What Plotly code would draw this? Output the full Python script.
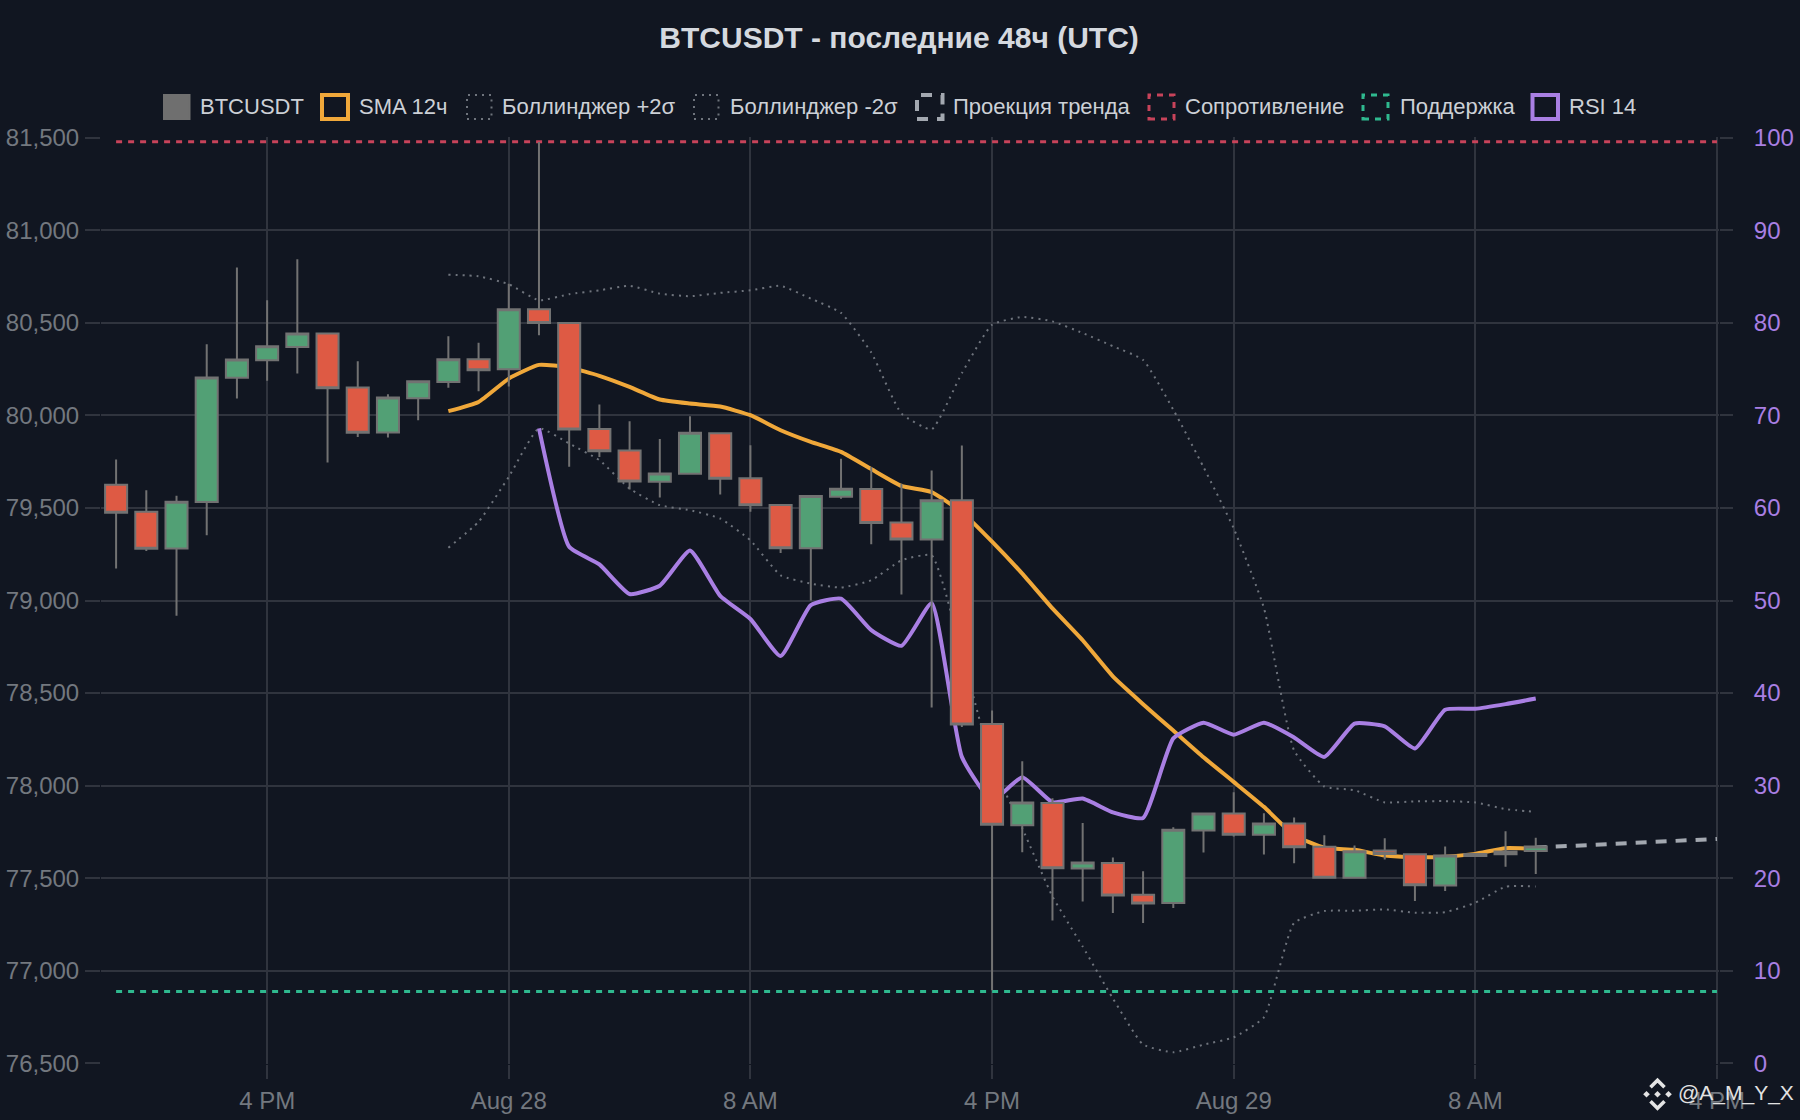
import pandas as pd
import plotly.graph_objects as go

TITLE = "BTCUSDT - последние 48ч (UTC)"
START = "2025-08-27 11:00"

opens = [79625,79479,79281,79532,80203,80298,80370,80442,80151,79908,80093,80180,80304,80250,80574,80500,79926,79811,79641,79685,
         79904,79661,79516,79282,79561,79603,79421,79329,79541,78333,77786,77906,77552,77582,77410,77365,77757,77849,77734,77795,
         77669,77502,77649,77629,77460,77620,77629,77647]
highs = [79762,79596,79566,80385,80799,80622,80844,80445,80293,80115,80190,80428,80392,80712,81477,80500,80059,79969,79872,79996,
         79906,79839,79520,79570,79766,79721,79631,79703,79838,78405,78131,77932,77798,77611,77537,77775,77849,77964,77851,77827,
         77731,77676,77715,77630,77671,77632,77753,77718]
lows = [79173,79267,78918,79353,80091,80187,80226,79746,79884,79881,79974,80149,80131,80156,80433,79722,79776,79600,79557,79685,
        79573,79479,79257,79000,79550,79304,79032,78422,78317,76894,77640,77271,77374,77311,77257,77339,77638,77725,77627,77580,
        77500,77500,77600,77376,77431,77618,77562,77522]
closes = [79474,79280,79533,80205,80302,80374,80442,80147,79906,80097,80185,80304,80244,80574,80500,79924,79807,79643,79686,79906,
          79658,79515,79282,79565,79604,79419,79329,79541,78330,77788,77908,77554,77584,77406,77363,77761,77849,77734,77795,77667,
          77502,77645,77631,77462,77622,77631,77644,77671]

sma12 = [80023,80073,80199,80273,80259,80214,80154,80086,80064,80048,80001,79920,79857,79803,79710,79619,79586,79477,79318,79145,
         78957,78785,78590,78440,78297,78153,78020,77885,77731,77664,77653,77622,77613,77616,77631,77662,77658]
boll_upper = [80760,80752,80709,80622,80655,80676,80700,80658,80644,80662,80676,80700,80631,80554,80340,80010,79925,80228,80490,80532,
              80508,80445,80374,80300,80031,79721,79390,78960,78190,77995,77975,77909,77915,77916,77909,77873,77858]
boll_lower = [79285,79425,79668,79930,79848,79758,79605,79515,79488,79443,79325,79136,79091,79070,79109,79217,79244,78713,78120,77770,
              77401,77130,76850,76601,76559,76600,76640,76748,77258,77322,77324,77331,77313,77316,77367,77454,77455]
rsi14 = [68.6,55.8,53.9,50.7,51.6,55.4,50.5,48.0,44.0,49.5,50.2,46.8,45.1,49.7,33.1,28.4,30.9,28.2,28.6,27.1,26.5,35.1,36.8,35.5,36.8,
         35.2,33.1,36.7,36.4,34.0,38.2,38.3,38.8,39.4]
projection = [77665,77673,77682,77690,77698,77705,77712]
resistance = [81479,81479]
support = [76888,76888]

y_ticks = [76500,77000,77500,78000,78500,79000,79500,80000,80500,81000,81500]
rsi_ticks = [0,10,20,30,40,50,60,70,80,90,100]
x_tick_vals = ["2025-08-27 16:00","2025-08-28 00:00","2025-08-28 08:00","2025-08-28 16:00",
               "2025-08-29 00:00","2025-08-29 08:00","2025-08-29 16:00"]
x_tick_text = ["4 PM","Aug 28","8 AM","4 PM","Aug 29","8 AM","4 PM"]
legend_labels = ["BTCUSDT","SMA 12ч","Боллинджер +2σ","Боллинджер -2σ","Проекция тренда","Сопротивление","Поддержка","RSI 14"]

BG = "#111621"; GRID = "#30343e"; TICK = "#73787f"; PURPLE = "#a97fe3"; ORANGE = "#f0a83a"; DOT = "#6f747d"
W, H = 1800, 1120
L, R, T, B = 101, 1719, 137, 1063.8

times = pd.date_range(START, periods=len(opens), freq="h")
line_t = times[11:]
rsi_t = times[14:]
proj_t = pd.date_range(times[-1], periods=len(projection), freq="h")
level_t = [times[0], proj_t[-1]]

def px(x): return (x - L) / (R - L)
def py(y): return (B - y) / (B - T)

fig = go.Figure()
def line(x, y, name, color, width, dash="solid", yaxis="y", spline=True):
    fig.add_trace(go.Scatter(x=x, y=y, name=name, mode="lines", yaxis=yaxis, showlegend=False,
                             line=dict(color=color, width=width, dash=dash,
                                       shape="spline" if spline else "linear", smoothing=0.45)))

line(line_t, boll_upper, legend_labels[2], DOT, 2, "2px,5px")
line(line_t, boll_lower, legend_labels[3], DOT, 2, "2px,5px")
line(line_t, sma12, legend_labels[1], ORANGE, 4)
line(proj_t, projection, legend_labels[4], "#a3a8b0", 4, "11px,9px", spline=False)
line(level_t, resistance, legend_labels[5], "#c8435a", 3, "6px,6px", spline=False)
line(level_t, support, legend_labels[6], "#2fb98f", 3, "6px,6px", spline=False)
line(rsi_t, rsi14, legend_labels[7], PURPLE, 4, yaxis="y2")

fig.add_trace(go.Candlestick(
    x=times, open=opens, high=highs, low=lows, close=closes, name=legend_labels[0], yaxis="y3", showlegend=False,
    whiskerwidth=0,
    increasing=dict(line=dict(color="#727272", width=2), fillcolor="#52a075"),
    decreasing=dict(line=dict(color="#727272", width=2), fillcolor="#de5a44"),
))

# Legend swatches and labels
swatches = [
    (164,189.5,"#6f6f6f","#6f6f6f",2,"solid"),
    (322,348,"rgba(0,0,0,0)",ORANGE,4,"solid"),
    (467,491.5,"rgba(0,0,0,0)",DOT,2,"2px,5px"),
    (694,718.5,"rgba(0,0,0,0)",DOT,2,"2px,5px"),
    (917,942.5,"rgba(0,0,0,0)","#a3a8b0",4,"11px,9px"),
    (1149,1174,"rgba(0,0,0,0)","#c8435a",3,"6px,6px"),
    (1363,1388,"rgba(0,0,0,0)","#2fb98f",3,"6px,6px"),
    (1532.5,1558,"rgba(0,0,0,0)",PURPLE,4,"solid"),
]
text_x = [198.5,357.5,501,729,951.5,1183.5,1398.5,1567.5]
shapes = []
annotations = []
for (x0,x1,fill,col,w,d),lab,tx in zip(swatches,legend_labels,text_x):
    shapes.append(dict(type="rect",xref="paper",yref="paper",x0=px(x0),x1=px(x1),y0=py(119),y1=py(95),
                       fillcolor=fill,line=dict(color=col,width=w,dash=d),layer="above"))
    annotations.append(dict(text=lab,xref="paper",yref="paper",x=px(tx),y=py(106.5),xanchor="left",yanchor="middle",
                            showarrow=False,align="left",borderpad=0,font=dict(size=22,color="#ccd0d6",family="Liberation Sans")))

# Watermark: Binance-style mark and handle
cx, cy = 1657.5, 1094
def diamond(c_x, c_y, r):
    return (f"M{px(c_x-r)},{py(c_y)} L{px(c_x)},{py(c_y-r)} L{px(c_x+r)},{py(c_y)} L{px(c_x)},{py(c_y+r)} Z")
for p in [diamond(cx,cy,3.3),diamond(cx-11,cy,3.3),diamond(cx+11,cy,3.3)]:
    shapes.append(dict(type="path",xref="paper",yref="paper",path=p,fillcolor="#e4e4e4",line=dict(width=0),layer="above"))
for a,b,c in [((-7,-7),(0,-14),(7,-7)),((-7,7),(0,14),(7,7))]:
    p = f"M{px(cx+a[0])},{py(cy+a[1])} L{px(cx+b[0])},{py(cy+b[1])} L{px(cx+c[0])},{py(cy+c[1])}"
    shapes.append(dict(type="path",xref="paper",yref="paper",path=p,line=dict(color="#e4e4e4",width=3.6),layer="above"))
annotations.append(dict(text="@A_M_Y_X",xref="paper",yref="paper",x=px(1677),y=py(1093),xanchor="left",yanchor="middle",
                        showarrow=False,borderpad=0,font=dict(size=21,color="#e2e2e2",family="Liberation Sans")))

tick_font = dict(size=24,color=TICK,family="Liberation Sans")
fig.update_layout(
    width=W,height=H,paper_bgcolor=BG,plot_bgcolor=BG,showlegend=False,boxgap=0.27,boxgroupgap=0,
    margin=dict(l=L,r=W-R,t=T,b=H-B,autoexpand=False),
    font=dict(family="Liberation Sans"),
    title=dict(text=f"<b>{TITLE}</b>",x=0.4995,xref="container",xanchor="center",y=1-37/H,yref="container",yanchor="middle",
               font=dict(size=30,color="#d5d9df",family="Liberation Sans")),
    xaxis=dict(type="date",range=["2025-08-27 10:30","2025-08-29 16:04"],rangeslider=dict(visible=False),
               tickmode="array",tickvals=x_tick_vals,ticktext=x_tick_text,showgrid=True,gridcolor=GRID,gridwidth=2,
               ticks="outside",ticklen=14,tickwidth=2,tickcolor=GRID,tickfont=tick_font,ticklabelstandoff=1,
               zeroline=False,showline=False),
    yaxis=dict(range=[76495.7,81504.3],tickmode="array",tickvals=y_ticks,tickformat=",d",showgrid=True,gridcolor=GRID,gridwidth=2,
               ticks="outside",ticklen=15,tickwidth=2,tickcolor=GRID,tickfont=tick_font,ticklabelstandoff=1,
               zeroline=False,showline=False),
    yaxis2=dict(range=[-0.0865,100.0865],side="right",overlaying="y",tickmode="array",tickvals=rsi_ticks,showgrid=False,
                ticks="outside",ticklen=13,tickwidth=2,tickcolor=GRID,tickfont=dict(size=24,color=PURPLE,family="Liberation Sans"),
                ticklabelstandoff=16,zeroline=False,showline=False),
    yaxis3=dict(range=[76495.7,81504.3],overlaying="y",visible=False,showgrid=False),
    shapes=shapes,annotations=annotations,
)

fig.write_html("out.html",config=dict(displayModeBar=False),
               post_script="document.body.style.margin='0';document.body.style.background='#111621';")
